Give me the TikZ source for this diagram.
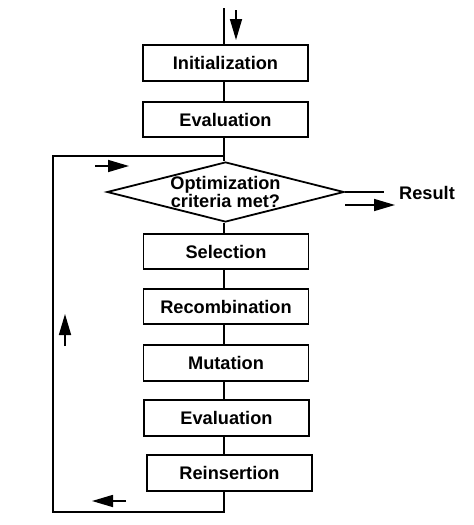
\documentclass[tikz,border=0pt]{standalone}
\usepackage{fontspec}
\setmainfont{Liberation Sans}
\usetikzlibrary{arrows.meta,shapes.geometric}
\begin{document}
\begin{tikzpicture}[x=1pt,y=-1pt,
  box/.style={draw,line width=1.8pt,minimum width=165pt,minimum height=35.5pt,inner sep=0pt,font=\fontsize{18.2}{18.2}\selectfont\bfseries},
  conn/.style={line width=1.8pt},
  ind/.style={line width=1.6pt,-{Triangle[length=21pt,width=12pt]}},
  lbl/.style={font=\fontsize{18.2}{18.2}\selectfont\bfseries,inner sep=0pt}]
\useasboundingbox (0,0) rectangle (474,525);
\coordinate (start) at (224,8);
\node[box] (init) at (225.5,63) {Initialization};
\node[box] (eval1) at (225.5,119.5) {Evaluation};
\node[draw,shape=diamond,aspect=3.95,minimum width=237pt,minimum height=60pt,inner sep=0pt,line width=1.8pt,
      align=center,font=\fontsize{18.2}{13.5}\selectfont\bfseries] (crit) at (225.5,192) {Optimization\\criteria met?};
\node[box] (sel) at (226,251.5) {Selection};
\node[box] (rec) at (226,306.5) {Recombination};
\node[box] (mut) at (226,363) {Mutation};
\node[box] (eval2) at (226.5,418) {Evaluation};
\node[box] (reins) at (229.5,473) {Reinsertion};
\node[lbl,anchor=west] (res) at (399,193) {Result};
\coordinate (spine) at (224,0);
\coordinate (resend) at (384,192);
\coordinate (loopjoin) at (224,156);
\coordinate (loopbot) at (224,512);
\coordinate (loopleft) at (53,512);
\coordinate (looptop) at (53,156);
% spine connectors
\draw[conn] (start) -- (init.north -| spine);
\draw[conn] (init.south -| spine) -- (eval1.north -| spine);
\draw[conn] (eval1.south -| spine) -- (crit.north -| spine);
\draw[conn] (crit.south -| spine) -- (sel.north -| spine);
\draw[conn] (sel.south -| spine) -- (rec.north -| spine);
\draw[conn] (rec.south -| spine) -- (mut.north -| spine);
\draw[conn] (mut.south -| spine) -- (eval2.north -| spine);
\draw[conn] (eval2.south -| spine) -- (reins.north -| spine);
\draw[conn] (crit.east) -- (resend);
% loop back
\draw[conn] (reins.south -| spine) -- (loopbot) -- (loopleft) -- (looptop) -- (loopjoin);
% direction indicators
\draw[ind] (236,10) -- (236,40);
\draw[ind] (95,166) -- (129,166);
\draw[ind] (345,205) -- (395,205);
\draw[ind] (65,346) -- (65,314);
\draw[ind] (126,501) -- (92,501);
\end{tikzpicture}
\end{document}
